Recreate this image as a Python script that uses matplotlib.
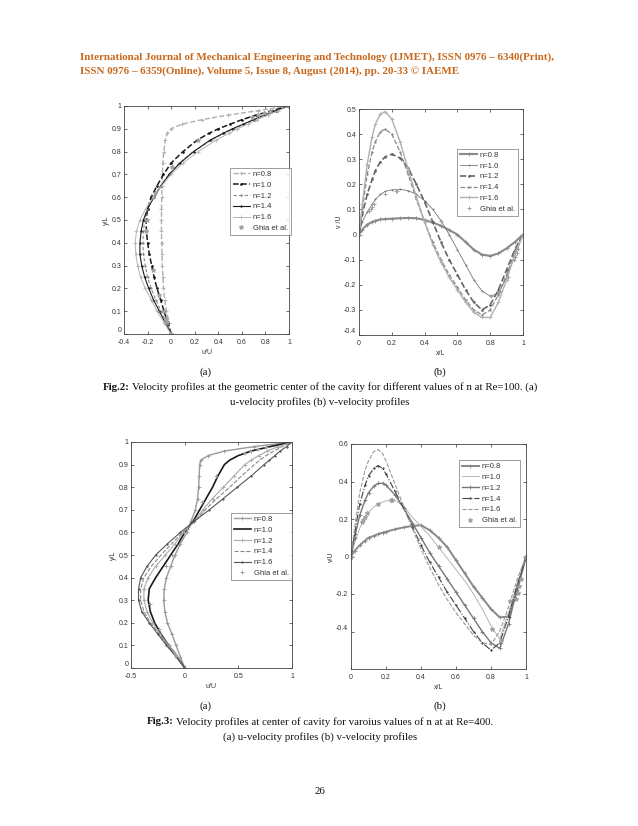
import matplotlib
matplotlib.use("Agg")
import matplotlib.pyplot as plt
import numpy as np
from matplotlib.ticker import FuncFormatter

# ---------- data ----------
n_labels = ['n=0.8', 'n=1.0', 'n=1.2', 'n=1.4', 'n=1.6']

# Fig.2 (a): u/U along vertical centre line, Re=100
y_a = [0, .05, .1, .15, .2, .25, .3, .35, .4, .45, .5, .55, .6, .65, .7, .75, .8, .85, .88, .9, .92, .94, .96, .98, 1]
u_a_08 = [0, -0.02, -0.04, -0.055, -0.065, -0.07, -0.075, -0.078, -0.08, -0.082, -0.082, -0.082, -0.08, -0.078, -0.075, -0.07, -0.063, -0.05, -0.035, 0.0, 0.09, 0.26, 0.48, 0.74, 1]
u_a_10 = [0, -0.03, -0.06, -0.09, -0.12, -0.145, -0.165, -0.185, -0.2, -0.21, -0.212, -0.2, -0.17, -0.12, -0.065, 0.0, 0.1, 0.22, 0.32, 0.4, 0.5, 0.6, 0.72, 0.86, 1]
u_a_12 = [0, -0.04, -0.085, -0.13, -0.17, -0.2, -0.22, -0.235, -0.24, -0.235, -0.225, -0.2, -0.15, -0.09, -0.02, 0.07, 0.19, 0.34, 0.45, 0.53, 0.62, 0.71, 0.8, 0.9, 1]
u_a_14 = [0, -0.05, -0.1, -0.15, -0.19, -0.225, -0.25, -0.265, -0.265, -0.255, -0.235, -0.2, -0.145, -0.085, -0.015, 0.075, 0.19, 0.33, 0.44, 0.52, 0.61, 0.7, 0.79, 0.89, 1]
u_a_16 = [0, -0.06, -0.12, -0.17, -0.22, -0.26, -0.285, -0.3, -0.305, -0.295, -0.265, -0.215, -0.15, -0.08, 0.0, 0.1, 0.23, 0.38, 0.49, 0.56, 0.65, 0.73, 0.82, 0.91, 1]

# Ghia et al. points
ghia_y = [1.0, 0.9766, 0.9688, 0.9609, 0.9531, 0.8516, 0.7344, 0.6172, 0.5, 0.4531, 0.2813, 0.1719, 0.1016, 0.0703, 0.0625, 0.0547, 0.0]
ghia_u100 = [1.0, 0.84123, 0.78871, 0.73722, 0.68717, 0.23151, 0.00332, -0.13641, -0.20581, -0.2109, -0.15662, -0.1015, -0.06434, -0.04775, -0.04192, -0.03717, 0.0]
ghia_u400 = [1.0, 0.75837, 0.68439, 0.61756, 0.55892, 0.29093, 0.16256, 0.02135, -0.11477, -0.17119, -0.32726, -0.24299, -0.14612, -0.10338, -0.09266, -0.08186, 0.0]
ghia_x = [1.0, 0.9688, 0.9609, 0.9531, 0.9453, 0.9063, 0.8594, 0.8047, 0.5, 0.2344, 0.2266, 0.1563, 0.0938, 0.0781, 0.0703, 0.0625, 0.0]
ghia_v100 = [0.0, -0.05906, -0.07391, -0.08864, -0.10313, -0.16914, -0.22445, -0.24533, 0.05454, 0.17527, 0.17507, 0.16077, 0.12317, 0.1089, 0.10091, 0.09233, 0.0]
ghia_v400 = [0.0, -0.12146, -0.15663, -0.19254, -0.22847, -0.23827, -0.44993, -0.38598, 0.05188, 0.30174, 0.30203, 0.28124, 0.22965, 0.2092, 0.19713, 0.1836, 0.0]

# Fig.2 (b): v/U along horizontal centre line, Re=100
x_b = [0, .02, .05, .08, .1, .13, .16, .2, .25, .3, .35, .4, .45, .5, .55, .6, .65, .7, .75, .8, .85, .9, .95, 1]
v_b_08 = [0, 0.02, 0.04, 0.05, 0.055, 0.06, 0.062, 0.063, 0.065, 0.066, 0.065, 0.058, 0.048, 0.035, 0.018, 0.0, -0.03, -0.06, -0.08, -0.085, -0.075, -0.055, -0.03, 0]
v_b_10 = [0, 0.05, 0.09, 0.12, 0.14, 0.16, 0.172, 0.178, 0.18, 0.175, 0.16, 0.135, 0.1, 0.055, 0.0, -0.06, -0.12, -0.18, -0.225, -0.245, -0.235, -0.17, -0.085, 0]
v_b_12 = [0, 0.08, 0.16, 0.22, 0.255, 0.29, 0.31, 0.32, 0.305, 0.265, 0.2, 0.13, 0.05, -0.03, -0.1, -0.16, -0.22, -0.27, -0.3, -0.28, -0.22, -0.14, -0.06, 0]
v_b_14 = [0, 0.1, 0.24, 0.33, 0.37, 0.41, 0.42, 0.4, 0.33, 0.24, 0.14, 0.05, -0.03, -0.1, -0.16, -0.21, -0.26, -0.3, -0.32, -0.3, -0.24, -0.16, -0.07, 0]
v_b_16 = [0, 0.12, 0.28, 0.39, 0.44, 0.48, 0.49, 0.46, 0.37, 0.26, 0.15, 0.05, -0.04, -0.11, -0.17, -0.22, -0.27, -0.31, -0.33, -0.33, -0.27, -0.18, -0.08, 0]

# Fig.3 (a): u/U, Re=400
y_c = [0, .05, .1, .15, .2, .25, .3, .35, .4, .45, .5, .55, .6, .65, .7, .75, .8, .85, .9, .92, .94, .96, .98, 1]
u_c_08 = [0, -0.04, -0.08, -0.12, -0.16, -0.185, -0.195, -0.19, -0.17, -0.13, -0.09, -0.04, 0.02, 0.06, 0.1, 0.12, 0.13, 0.135, 0.14, 0.15, 0.22, 0.37, 0.65, 1]
u_c_10 = [0, -0.07, -0.15, -0.22, -0.28, -0.32, -0.34, -0.33, -0.27, -0.2, -0.13, -0.06, 0.0, 0.08, 0.14, 0.2, 0.26, 0.31, 0.37, 0.42, 0.5, 0.62, 0.8, 1]
u_c_12 = [0, -0.07, -0.15, -0.23, -0.3, -0.35, -0.38, -0.38, -0.34, -0.27, -0.18, -0.09, -0.01, 0.09, 0.17, 0.26, 0.36, 0.46, 0.56, 0.62, 0.69, 0.77, 0.87, 1]
u_c_14 = [0, -0.08, -0.16, -0.24, -0.32, -0.38, -0.41, -0.41, -0.38, -0.31, -0.22, -0.12, -0.02, 0.1, 0.19, 0.3, 0.42, 0.53, 0.65, 0.7, 0.76, 0.83, 0.91, 1]
u_c_16 = [0, -0.08, -0.17, -0.25, -0.33, -0.4, -0.43, -0.43, -0.41, -0.35, -0.27, -0.16, -0.04, 0.09, 0.23, 0.36, 0.49, 0.62, 0.74, 0.79, 0.84, 0.89, 0.95, 1]

# Fig.3 (b): v/U, Re=400
x_d = [0, .02, .05, .08, .1, .13, .155, .18, .2, .25, .3, .35, .4, .45, .5, .55, .6, .65, .7, .75, .8, .85, .9, .95, 1]
v_d_08 = [0, 0.03, 0.06, 0.085, 0.1, 0.11, 0.12, 0.127, 0.132, 0.145, 0.155, 0.163, 0.167, 0.14, 0.1, 0.05, -0.02, -0.09, -0.16, -0.22, -0.28, -0.325, -0.32, -0.18, 0]
v_d_10 = [0, 0.07, 0.15, 0.21, 0.235, 0.265, 0.28, 0.29, 0.297, 0.3, 0.27, 0.21, 0.16, 0.11, 0.05, -0.01, -0.07, -0.13, -0.2, -0.28, -0.37, -0.44, -0.3, -0.15, 0]
v_d_12 = [0, 0.1, 0.22, 0.3, 0.34, 0.375, 0.39, 0.39, 0.38, 0.33, 0.26, 0.18, 0.1, 0.02, -0.05, -0.12, -0.19, -0.26, -0.33, -0.4, -0.46, -0.49, -0.36, -0.17, 0]
v_d_14 = [0, 0.12, 0.28, 0.38, 0.43, 0.47, 0.485, 0.47, 0.44, 0.35, 0.26, 0.16, 0.06, -0.03, -0.11, -0.19, -0.26, -0.33, -0.4, -0.46, -0.5, -0.46, -0.32, -0.15, 0]
v_d_16 = [0, 0.15, 0.34, 0.46, 0.51, 0.56, 0.57, 0.55, 0.51, 0.39, 0.27, 0.15, 0.04, -0.06, -0.15, -0.23, -0.3, -0.36, -0.42, -0.46, -0.47, -0.4, -0.27, -0.12, 0]

# ---------- styles: (color, linestyle, lw, marker, ms) ----------
sty_a = [('#b0b0b0', '--', 1.0, '+', 3), ('#1a1a1a', '--', 1.1, '.', 2.5), ('#8a8a8a', (0, (3, 2)), 0.8, '.', 2),
         ('#1a1a1a', '-', 0.8, '.', 2), ('#b5b5b5', '-', 0.7, '+', 2.5)]
sty_b = [('#8a8a8a', '-', 1.5, '+', 3), ('#777777', '-', 0.6, '.', 1.5), ('#666666', '--', 1.2, '.', 2.5),
         ('#888888', '--', 0.9, '.', 2), ('#b0b0b0', '-', 1.0, '+', 3)]
sty_c = [('#9a9a9a', '-', 1.0, '+', 2.5), ('#1a1a1a', '-', 1.2, None, 0), ('#aaaaaa', '-', 0.8, '+', 2.5),
         ('#888888', '--', 0.8, None, 0), ('#555555', '-', 0.8, '.', 2)]
sty_d = [('#888888', '-', 1.4, '+', 3), ('#aaaaaa', '-', 0.6, None, 0), ('#777777', '-', 1.0, '+', 2.5),
         ('#444444', '-.', 0.8, '.', 2), ('#999999', '--', 0.8, None, 0)]

W, H = 638, 826
fig = plt.figure(figsize=(W / 100, H / 100), dpi=100)
fig.patch.set_facecolor('white')

def px_rect(l, t, r, b):
    return [l / W, 1 - b / H, (r - l) / W, (b - t) / H]

fmt = FuncFormatter(lambda v, p: f'{round(v, 3):g}' if abs(v) > 1e-9 else '0')

def panel(rect, xs_list, ys_list, styles, gx, gy, gmark, xlim, ylim, xticks, yticks, xlabel, ylabel, leg_xy):
    ax = fig.add_axes(px_rect(*rect))
    for xs, ys, (c, ls, lw, mk, ms), lab in zip(xs_list, ys_list, styles, n_labels):
        ax.plot(xs, ys, color=c, ls=ls, lw=lw, marker=mk, ms=ms, mew=0.6, label=lab)
    ax.plot(gx, gy, ls='none', marker=gmark, color='#a0a0a0', ms=3.5, mew=0.7, label='Ghia et al.')
    ax.set_xlim(*xlim); ax.set_ylim(*ylim)
    ax.set_xticks(xticks); ax.set_yticks(yticks)
    ax.xaxis.set_major_formatter(fmt); ax.yaxis.set_major_formatter(fmt)
    ax.tick_params(direction='in', top=True, right=True, length=2.5, width=0.5,
                   labelsize=5, colors='#333333')
    ax.tick_params(axis='x', pad=3.5)
    ax.tick_params(axis='y', pad=2)
    # lift the bottom y label a little so it clears the corner x label
    ax.get_yticklabels()[0].set_va('bottom')
    for s in ax.spines.values():
        s.set_linewidth(0.6); s.set_color('#444444')
    ax.set_xlabel(xlabel, fontsize=5, labelpad=2, color='#333333')
    ax.set_ylabel(ylabel, fontsize=5, labelpad=1, color='#333333')
    leg = ax.legend(loc='lower left', bbox_to_anchor=leg_xy, fontsize=5.5, frameon=True, fancybox=False,
                    edgecolor='#555555', handlelength=2.2, borderpad=0.4, labelspacing=0.45,
                    handletextpad=0.4, borderaxespad=0)
    leg.get_frame().set_linewidth(0.5)
    for t in leg.get_texts():
        t.set_color('#333333')
    return ax

plt.rcParams['font.family'] = ['Liberation Sans', 'DejaVu Sans']

panel((124, 106, 289, 334), [u_a_08, u_a_10, u_a_12, u_a_14, u_a_16], [y_a] * 5, sty_a,
      ghia_u100, ghia_y, '*', (-0.4, 1), (0, 1), np.arange(-0.4, 1.01, 0.2), np.arange(0, 1.01, 0.1),
      'u/U', 'y/L', (0.642, 0.434))
panel((359, 109, 523, 335), [x_b] * 5, [v_b_08, v_b_10, v_b_12, v_b_14, v_b_16], sty_b,
      ghia_x, ghia_v100, '+', (0, 1), (-0.4, 0.5), np.arange(0, 1.01, 0.2), np.arange(-0.4, 0.51, 0.1),
      'x/L', 'v /U', (0.598, 0.527))
panel((131, 442, 292, 668), [u_c_08, u_c_10, u_c_12, u_c_14, u_c_16], [y_c] * 5, sty_c,
      ghia_u400, ghia_y, '+', (-0.5, 1), (0, 1), [-0.5, 0, 0.5, 1], np.arange(0, 1.01, 0.1),
      'u/U', 'y/L', (0.621, 0.389))
panel((351, 444, 526, 669), [x_d] * 5, [v_d_08, v_d_10, v_d_12, v_d_14, v_d_16], sty_d,
      ghia_x, ghia_v400, '*', (0, 1), (-0.6, 0.6), np.arange(0, 1.01, 0.2), np.arange(-0.4, 0.61, 0.2),
      'x/L', 'v/U', (0.617, 0.63))

# ---------- page text ----------
serif = 'Liberation Serif'
hdr = '#C8691E'
fig.text(80 / W, 1 - 57 / H, 'International Journal of Mechanical Engineering and Technology (IJMET), ISSN 0976 \u2013 6340(Print),',
         fontsize=7.95, fontweight='bold', family=serif, color=hdr, va='center')
fig.text(80 / W, 1 - 71 / H, 'ISSN 0976 \u2013 6359(Online), Volume 5, Issue 8, August (2014), pp. 20-33 \u00a9 IAEME',
         fontsize=7.95, fontweight='bold', family=serif, color=hdr, va='center')

def ctext(x, y, s, **kw):
    fig.text(x / W, 1 - y / H, s, family=serif, fontsize=7.8, ha='center', va='center', color='#111111', **kw)

renderer = fig.canvas.get_renderer()

def caption(y, bold, rest, cx=320):
    t1 = fig.text(0, 1 - y / H, bold, family=serif, fontsize=7.8, fontweight='bold', va='center', color='#111111')
    t2 = fig.text(0, 1 - y / H, rest, family=serif, fontsize=7.8, va='center', color='#111111')
    w1 = t1.get_window_extent(renderer).width
    w2 = t2.get_window_extent(renderer).width
    gap = 2
    x0 = cx - (w1 + gap + w2) / 2
    t1.set_x(x0 / W)
    t2.set_x((x0 + w1 + gap) / W)

ctext(205, 372, '(a)')
ctext(440, 372, '(b)')
caption(387, 'Fig.2:', 'Velocity profiles at the geometric center of the cavity for different values of n at Re=100. (a)')
ctext(320, 402, 'u-velocity profiles (b) v-velocity profiles')

ctext(205, 706, '(a)')
ctext(440, 706, '(b)')
caption(722, 'Fig.3:', 'Velocity profiles at center of cavity for varoius values of n at at Re=400.')
ctext(320, 737, '(a) u-velocity profiles (b) v-velocity profiles')

ctext(320, 791, '26')

fig.savefig('out.png', dpi=100, facecolor='white')
